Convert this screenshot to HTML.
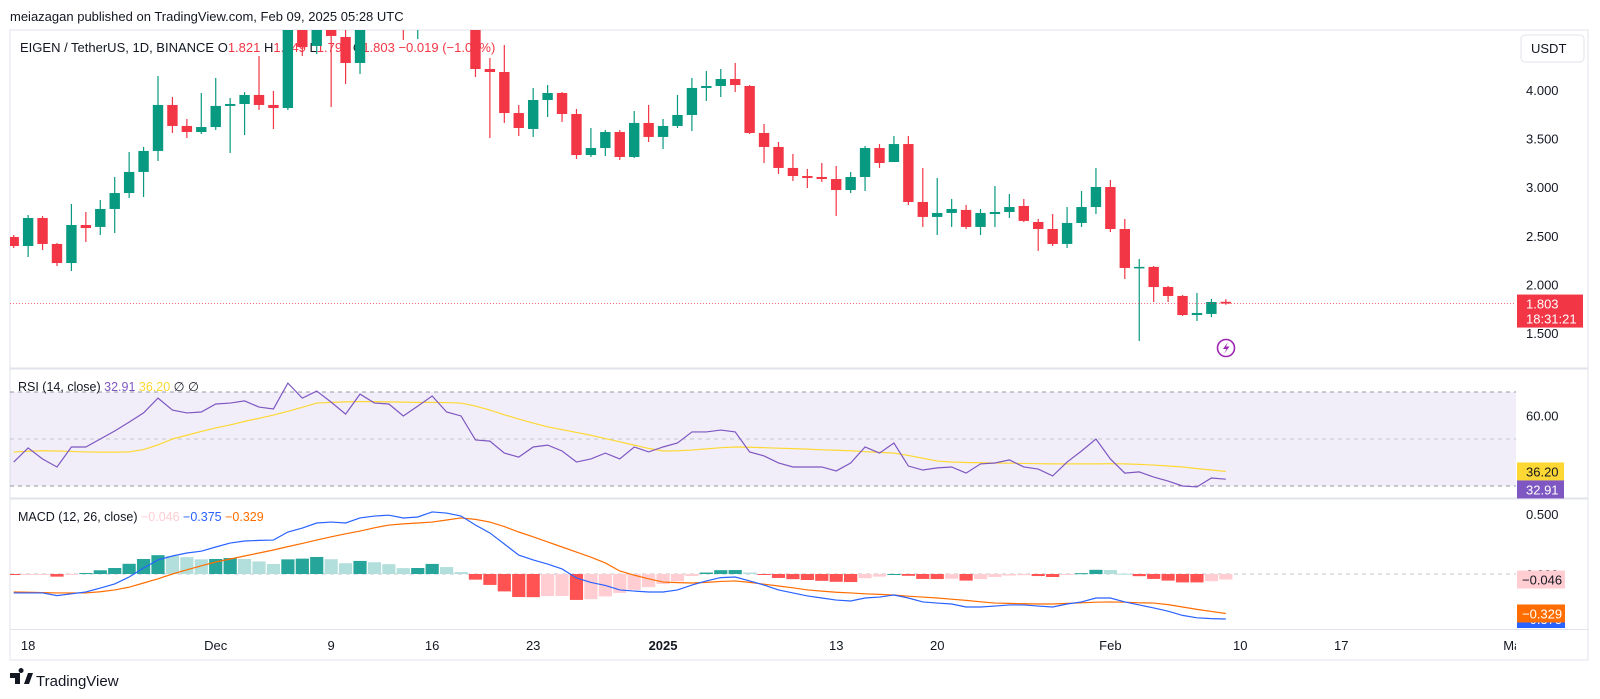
<!DOCTYPE html>
<html><head><meta charset="utf-8"><style>
html,body{margin:0;padding:0;background:#fff;width:1600px;height:699px;overflow:hidden}
svg{display:block;font-family:"Liberation Sans",sans-serif}
</style></head><body>
<svg id="c" width="1600" height="699" viewBox="0 0 1600 699" xmlns="http://www.w3.org/2000/svg">
<defs>
<clipPath id="mainClip"><rect x="10" y="30" width="1506" height="338"/></clipPath>
<clipPath id="rsiClip"><rect x="10" y="370" width="1506" height="128"/></clipPath>
<clipPath id="macdClip"><rect x="10" y="500" width="1506" height="128"/></clipPath>
<clipPath id="axisClip"><rect x="10" y="630" width="1506" height="30"/></clipPath>
<clipPath id="scaleClip"><rect x="1516" y="500" width="72" height="129"/></clipPath>
</defs>
<text x="10" y="21" font-size="13" fill="#131722">meiazagan published on TradingView.com, Feb 09, 2025 05:28 UTC</text>
<rect x="10" y="30" width="1578" height="630" fill="none" stroke="#e0e3eb" stroke-width="1"/>
<line x1="10" y1="368.5" x2="1588" y2="368.5" stroke="#e0e3eb" stroke-width="2"/>
<line x1="10" y1="498.5" x2="1588" y2="498.5" stroke="#e0e3eb" stroke-width="2"/>
<line x1="10" y1="629.5" x2="1588" y2="629.5" stroke="#e0e3eb" stroke-width="1"/>
<g id="legendMain">
<text x="20" y="52" font-size="13" fill="#131722">EIGEN / TetherUS, 1D, BINANCE  O<tspan fill="#f23645">1.821</tspan>  H<tspan fill="#f23645">1.849</tspan>  L<tspan fill="#f23645">1.791</tspan>  C<tspan fill="#f23645">1.803  −0.019 (−1.04%)</tspan></text>
</g>
<g id="mainG" clip-path="url(#mainClip)"></g>
<g id="rsiG" clip-path="url(#rsiClip)"></g>
<g id="macdG" clip-path="url(#macdClip)"></g>
<g id="priceAxis"></g>
<g id="timeAxis" clip-path="url(#axisClip)"></g>
<rect x="1521" y="35" width="63" height="27" rx="4" fill="#fff" stroke="#e0e3eb"/>
<text x="1531" y="53" font-size="13" fill="#131722">USDT</text>
<circle cx="1226" cy="348" r="8.5" fill="#fff" stroke="#9c27b0" stroke-width="1.6"/>
<path d="M1228 342 L1223 349 L1226.5 349 L1224 354 L1229.5 346.5 L1226 346.5 Z" fill="#9c27b0"/>
<text x="18" y="391" font-size="12.5" fill="#131722">RSI (14, close) <tspan fill="#7e57c2">32.91</tspan> <tspan fill="#fdd835">36.20</tspan> ∅ ∅</text>
<text x="18" y="521" font-size="12.5" fill="#131722">MACD (12, 26, close) <tspan fill="#ffcdd2">−0.046</tspan> <tspan fill="#2962ff">−0.375</tspan> <tspan fill="#ff6d00">−0.329</tspan></text>
<g>
<path d="M10 673 h10 v11 h-5 v-6 h-5 z M21 673 a2.5 2.5 0 1 1 0.1 0 z M24 684 l4 -11 h5 l-4 11 z" fill="#131722"/>
<text x="36" y="686" font-size="15" fill="#131722">TradingView</text>
</g>
</svg>
<script>
// ===== Data =====
const opens=[2.488,2.395,2.683,2.416,2.220,2.611,2.591,2.776,2.940,3.157,
3.373,3.846,3.630,3.568,3.619,3.836,3.856,3.949,3.846,3.815,
4.85,4.453,4.70,4.545,4.278,4.75,4.90,5.00,4.80,4.90,
5.10,4.95,4.80,4.216,4.185,3.763,3.599,3.897,3.969,3.753,
3.331,3.403,3.568,3.311,3.661,3.517,3.630,3.743,4.021,4.041,
4.113,4.041,3.558,3.414,3.198,3.115,3.105,3.084,2.971,3.105,
3.403,3.259,3.444,2.848,2.694,2.735,2.766,2.591,2.724,2.745,
2.807,2.642,2.570,2.416,2.632,2.796,3.002,2.570,2.169,2.180,
1.973,1.881,1.685,1.696,1.821];
const highs=[2.508,2.714,2.704,2.426,2.827,2.745,2.868,3.105,3.362,3.414,
4.144,3.928,3.702,3.969,4.124,3.918,3.979,4.350,3.990,4.95,
4.90,4.85,4.75,4.720,4.85,5.00,5.10,5.10,4.95,5.20,
5.20,5.00,4.85,4.329,4.463,3.846,4.021,4.051,3.979,3.805,
3.609,3.589,3.589,3.784,3.846,3.702,3.949,4.124,4.196,4.216,
4.278,4.051,3.650,3.465,3.342,3.187,3.249,3.218,3.157,3.424,
3.444,3.527,3.527,3.198,3.095,2.879,2.817,2.776,3.012,2.930,
2.879,2.673,2.724,2.796,2.961,3.198,3.074,2.673,2.261,2.189,
1.984,1.891,1.912,1.850,1.849];
const lows=[2.375,2.282,2.354,2.189,2.138,2.436,2.508,2.529,2.889,2.899,
3.270,3.558,3.506,3.547,3.589,3.352,3.537,3.794,3.599,3.794,
4.350,4.370,3.825,4.062,4.165,4.65,4.75,4.514,4.525,4.80,
4.80,4.62,4.134,3.506,3.661,3.527,3.517,3.722,3.671,3.290,
3.311,3.321,3.280,3.300,3.465,3.393,3.609,3.578,3.887,3.928,
3.979,3.547,3.249,3.136,3.064,2.992,3.054,2.704,2.940,2.961,
3.198,3.259,2.817,2.591,2.508,2.591,2.570,2.508,2.591,2.683,
2.642,2.344,2.395,2.375,2.591,2.724,2.539,2.056,1.418,1.819,
1.819,1.675,1.624,1.665,1.791];
const closes=[2.395,2.683,2.416,2.220,2.611,2.580,2.776,2.940,3.157,3.373,
3.846,3.630,3.568,3.619,3.836,3.856,3.949,3.846,3.815,4.85,
4.442,4.70,4.556,4.278,4.75,4.90,5.00,4.80,4.90,5.10,
4.95,4.80,4.216,4.185,3.763,3.609,3.897,3.969,3.753,3.331,
3.403,3.568,3.311,3.661,3.517,3.630,3.743,4.021,4.041,4.113,
4.051,3.558,3.414,3.198,3.115,3.095,3.084,2.971,3.105,3.403,
3.249,3.444,2.848,2.694,2.735,2.776,2.591,2.735,2.745,2.796,
2.653,2.570,2.416,2.632,2.796,3.002,2.570,2.169,2.180,1.973,
1.881,1.685,1.706,1.819,1.803];
const rsiValues=[40.2,46.2,41.5,38.1,46.6,46.6,50.0,53.4,57.2,61.1,
67.4,62.3,61.1,61.5,64.9,65.3,66.2,63.6,62.8,73.8,
67.4,70.4,65.7,60.6,69.1,65.3,64.9,59.8,64.0,68.3,
61.5,59.8,49.6,49.1,44.0,42.3,46.6,47.4,44.9,40.2,
41.5,44.0,41.5,46.6,44.5,46.6,48.3,53.0,53.0,53.8,
53.0,44.5,42.8,39.8,38.1,38.1,38.1,36.4,39.8,46.6,
44.0,48.3,38.5,36.8,37.7,38.1,35.5,39.4,39.8,41.1,
38.1,37.2,34.3,40.2,44.9,50.0,41.5,35.5,36.0,33.8,
32.1,30.0,29.6,33.4,32.91];
const rsiMA=[44.5,44.8,45.0,44.9,44.7,44.5,44.4,44.4,44.5,45.5,
47.5,50.0,51.6,53.2,54.7,56.0,57.5,58.8,60.2,61.8,
63.5,65.3,65.6,65.8,65.9,65.9,65.8,65.7,65.6,65.6,
65.5,65.3,64.0,62.3,60.3,58.5,56.8,55.2,54.0,52.8,
51.6,50.2,48.8,47.4,46.0,44.9,45.0,45.3,45.8,46.3,
46.6,46.5,46.3,46.1,45.9,45.7,45.4,45.2,45.0,44.6,
44.3,44.0,43.0,41.8,40.6,40.2,40.0,39.9,39.8,39.7,
39.6,39.5,39.4,39.4,39.4,39.4,39.5,39.4,39.2,38.9,
38.5,38.1,37.4,36.8,36.2];
const macdLine=[-0.158,-0.158,-0.158,-0.18,-0.165,-0.15,-0.117,-0.083,-0.025,0.05,
0.117,0.15,0.175,0.19,0.225,0.258,0.275,0.28,0.283,0.35,
0.383,0.425,0.433,0.425,0.467,0.483,0.49,0.467,0.475,0.517,
0.508,0.483,0.408,0.342,0.25,0.158,0.117,0.083,0.042,-0.033,
-0.07,-0.095,-0.133,-0.142,-0.15,-0.15,-0.133,-0.092,-0.058,-0.03,
-0.025,-0.058,-0.092,-0.133,-0.158,-0.183,-0.2,-0.217,-0.225,-0.2,
-0.192,-0.175,-0.2,-0.233,-0.242,-0.25,-0.275,-0.275,-0.267,-0.258,
-0.258,-0.267,-0.275,-0.25,-0.233,-0.2,-0.2,-0.233,-0.258,-0.283,
-0.31,-0.345,-0.365,-0.372,-0.375];
const signalLine=[-0.15,-0.152,-0.155,-0.158,-0.158,-0.158,-0.148,-0.133,-0.11,-0.075,
-0.04,0.0,0.035,0.068,0.1,0.125,0.15,0.175,0.2,0.228,
0.255,0.283,0.31,0.335,0.358,0.385,0.408,0.418,0.425,0.433,
0.45,0.467,0.455,0.433,0.395,0.35,0.31,0.267,0.225,0.183,
0.14,0.092,0.025,-0.01,-0.04,-0.067,-0.072,-0.075,-0.07,-0.062,
-0.058,-0.07,-0.085,-0.1,-0.115,-0.133,-0.143,-0.152,-0.158,-0.165,
-0.17,-0.175,-0.185,-0.192,-0.2,-0.21,-0.22,-0.232,-0.242,-0.245,
-0.248,-0.25,-0.25,-0.245,-0.24,-0.235,-0.233,-0.235,-0.24,-0.242,
-0.255,-0.275,-0.295,-0.312,-0.329];
const histValues=[-0.008,-0.006,-0.003,-0.022,-0.007,0.008,0.031,0.05,0.085,0.125,
0.157,0.15,0.14,0.122,0.125,0.133,0.125,0.105,0.083,0.122,
0.128,0.142,0.123,0.09,0.109,0.098,0.082,0.049,0.05,0.084,
0.058,0.016,-0.047,-0.091,-0.145,-0.192,-0.193,-0.184,-0.183,-0.216,
-0.21,-0.187,-0.158,-0.132,-0.11,-0.083,-0.061,-0.017,0.012,0.032,
0.033,0.012,-0.007,-0.033,-0.043,-0.05,-0.057,-0.065,-0.067,-0.035,
-0.022,0.0,-0.015,-0.041,-0.042,-0.04,-0.055,-0.043,-0.025,-0.013,
-0.01,-0.017,-0.025,-0.005,0.007,0.035,0.033,0.002,-0.018,-0.041,
-0.055,-0.07,-0.07,-0.06,-0.046];
const priceTicks=[4.0,3.5,3.0,2.5,2.0,1.5];
const priceTickLabels=["4.000","3.500","3.000","2.500","2.000","1.500"];
const timeTickIdx=[1,14,22,29,36,45,57,64,76,85,92,104];
const timeTickLabels=["18","Dec","9","16","23","2025","13","20","Feb","10","17","Mar"];
const lastPrice=1.803;

// ===== Scales =====
const NS="http://www.w3.org/2000/svg";
const xAt=i=>13.7+i*14.43;
const yPrice=p=>90+(4-p)*97.2;
const yRsi=v=>392+(70-v)*2.35;
const yMacd=v=>574-v*120;
function mk(tag,attrs,parent){const e=document.createElementNS(NS,tag);for(const k in attrs)e.setAttribute(k,attrs[k]);parent.appendChild(e);return e;}

// ===== Candles =====
const mainG=document.getElementById('mainG');
for(let i=0;i<opens.length;i++){
  const up=closes[i]>=opens[i];
  const col=up?'#089981':'#f23645';
  const x=xAt(i);
  const w=mk('line',{x1:x,x2:x,y1:yPrice(highs[i]),y2:yPrice(lows[i]),stroke:col,'stroke-width':1.2},mainG);
  
  
  const yt=Math.min(yPrice(opens[i]),yPrice(closes[i]));
  const h=Math.max(1.5,Math.abs(yPrice(opens[i])-yPrice(closes[i])));
  const b=mk('rect',{x:x-5.2,y:yt,width:10.4,height:h,fill:col},mainG);
  
  
}
const pl=mk('line',{x1:10,x2:1516,y1:yPrice(lastPrice),y2:yPrice(lastPrice),stroke:'#f23645','stroke-width':1,'stroke-dasharray':'1 2',opacity:0.7},mainG);



// ===== Price axis =====
const pa=document.getElementById('priceAxis');
priceTicks.forEach((p,k)=>{
  const t=mk('text',{x:1526,y:yPrice(p)+5,'font-size':13,fill:'#131722'},pa);
  t.textContent=priceTickLabels[k];
  
  
});
const lp=yPrice(lastPrice);
const lb=mk('rect',{x:1517,y:lp-9,width:66,height:33,fill:'#f23645'},pa);


const lt=mk('text',{x:1526,y:lp+5,'font-size':13,fill:'#fff'},pa);lt.textContent=lastPrice.toFixed(3);


const lc=mk('text',{x:1526,y:lp+20,'font-size':13,fill:'#fff'},pa);lc.textContent='18:31:21';



// ===== RSI =====
const rg=document.getElementById('rsiG');
const band=mk('rect',{x:10,y:yRsi(70),width:1506,height:yRsi(30)-yRsi(70),fill:'#7e57c2','fill-opacity':0.1},rg);


[[70,'#9598a1'],[50,'#c3c5cc'],[30,'#9598a1']].forEach(([v,c])=>{
  const l=mk('line',{x1:10,x2:1516,y1:yRsi(v),y2:yRsi(v),stroke:c,'stroke-dasharray':'4 4','stroke-width':1},rg);
  
  
});
const rma=mk('polyline',{points:rsiMA.map((v,i)=>xAt(i)+','+yRsi(v)).join(' '),fill:'none',stroke:'#fdd835','stroke-width':1.2},rg);


const rl=mk('polyline',{points:rsiValues.map((v,i)=>xAt(i)+','+yRsi(v)).join(' '),fill:'none',stroke:'#7e57c2','stroke-width':1.2},rg);


const r60=mk('text',{x:1526,y:yRsi(60)+5,'font-size':13,fill:'#131722'},pa);r60.textContent='60.00';


const ym=yRsi(rsiMA[rsiMA.length-1]);
const bm=mk('rect',{x:1517,y:ym-9,width:47,height:18,fill:'#fdd835'},pa);


const tm=mk('text',{x:1526,y:ym+5,'font-size':13,fill:'#131722'},pa);tm.textContent=rsiMA[rsiMA.length-1].toFixed(2);


const yr=Math.max(yRsi(rsiValues[rsiValues.length-1]),ym+18);
const br=mk('rect',{x:1517,y:yr-9,width:47,height:18,fill:'#7e57c2'},pa);


const tr=mk('text',{x:1526,y:yr+5,'font-size':13,fill:'#fff'},pa);tr.textContent=rsiValues[rsiValues.length-1].toFixed(2);



// ===== MACD =====
const mg=document.getElementById('macdG');
const z=mk('line',{x1:10,x2:1516,y1:yMacd(0),y2:yMacd(0),stroke:'#c3c5cc','stroke-dasharray':'4 4'},mg);


histValues.forEach((v,i)=>{
  const prev=i>0?histValues[i-1]:v;
  let c;
  if(v>=0) c=v>=prev?'#26a69a':'#b2dfdb'; else c=v<=prev?'#ff5252':'#ffcdd2';
  const y0=yMacd(0),y1=yMacd(v);
  const r=mk('rect',{x:xAt(i)-6.6,y:Math.min(y0,y1),width:13.2,height:Math.max(1,Math.abs(y1-y0)),fill:c},mg);
  
  
});
const sl=mk('polyline',{points:signalLine.map((v,i)=>xAt(i)+','+yMacd(v)).join(' '),fill:'none',stroke:'#ff6d00','stroke-width':1.2},mg);


const ml=mk('polyline',{points:macdLine.map((v,i)=>xAt(i)+','+yMacd(v)).join(' '),fill:'none',stroke:'#2962ff','stroke-width':1.2},mg);


const sc=document.createElementNS(NS,'g');sc.setAttribute('clip-path','url(#scaleClip)');pa.appendChild(sc);


const t5=mk('text',{x:1526,y:yMacd(0.5)+5,'font-size':13,fill:'#131722'},sc);t5.textContent='0.500';


const t0=mk('text',{x:1526,y:yMacd(0)+5,'font-size':13,fill:'#131722'},sc);t0.textContent='0.000';


function badge(v,fill,tc,nm){
  const y=yMacd(v);
  const r=mk('rect',{x:1517,y:y-9,width:48,height:18,fill:fill},sc);
  
  
  const t=mk('text',{x:1522,y:y+5,'font-size':13,fill:tc},sc);t.textContent='−'+Math.abs(v).toFixed(3);
  
  
}
badge(histValues[histValues.length-1],'#ffcdd2','#131722','histogram');
badge(macdLine[macdLine.length-1],'#2962ff','#fff','macd');
badge(signalLine[signalLine.length-1],'#ff6d00','#fff','signal');

// ===== Time axis =====
const ta=document.getElementById('timeAxis');
timeTickIdx.forEach((idx,k)=>{
  const t=mk('text',{x:xAt(idx),y:650,'font-size':13,fill:'#131722','text-anchor':'middle'},ta);
  if(timeTickLabels[k]==='2025') t.setAttribute('font-weight','bold');
  t.textContent=timeTickLabels[k];
  
  
});
</script>
</body></html>
